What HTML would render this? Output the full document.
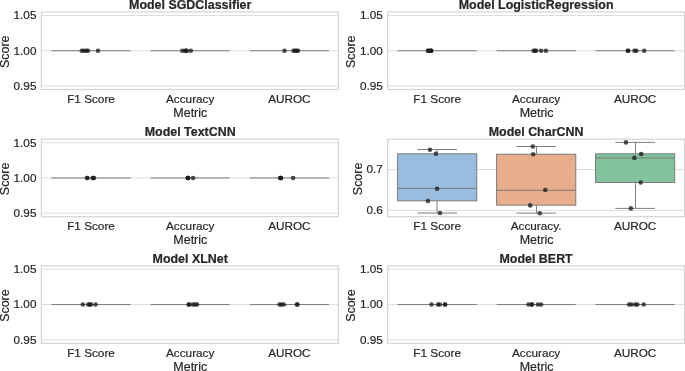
<!DOCTYPE html>
<html><head><meta charset="utf-8"><title>Model scores</title>
<style>html,body{margin:0;padding:0;background:#fff;overflow:hidden}svg{display:block}text{stroke:#262626;stroke-width:.2px}</style></head>
<body>
<svg width="685" height="371" viewBox="0 0 685 371" font-family="'Liberation Sans', Arial, sans-serif" fill="#262626">
<rect width="685" height="371" fill="#ffffff"/>
<g>
<line x1="41.4" x2="338.3" y1="15.52" y2="15.52" stroke="#dadada" stroke-width="0.9"/>
<line x1="41.4" x2="338.3" y1="50.75" y2="50.75" stroke="#dadada" stroke-width="0.9"/>
<line x1="41.4" x2="338.3" y1="85.98" y2="85.98" stroke="#dadada" stroke-width="0.9"/>
<line x1="51.4" x2="130.6" y1="50.75" y2="50.75" stroke="#777777" stroke-width="0.95"/>
<line x1="150.6" x2="229.7" y1="50.75" y2="50.75" stroke="#777777" stroke-width="0.95"/>
<line x1="249.8" x2="329.0" y1="50.75" y2="50.75" stroke="#777777" stroke-width="0.95"/>
<circle cx="81.8" cy="50.75" r="2.3" fill="#1a1a1a" fill-opacity="0.76"/>
<circle cx="84.0" cy="50.75" r="2.3" fill="#1a1a1a" fill-opacity="0.76"/>
<circle cx="86.2" cy="50.75" r="2.3" fill="#1a1a1a" fill-opacity="0.76"/>
<circle cx="88.0" cy="50.75" r="2.3" fill="#1a1a1a" fill-opacity="0.76"/>
<circle cx="98.0" cy="50.75" r="2.3" fill="#1a1a1a" fill-opacity="0.76"/>
<circle cx="182.3" cy="50.75" r="2.3" fill="#1a1a1a" fill-opacity="0.76"/>
<circle cx="185.0" cy="50.75" r="2.3" fill="#1a1a1a" fill-opacity="0.76"/>
<circle cx="186.3" cy="50.75" r="2.3" fill="#1a1a1a" fill-opacity="0.76"/>
<circle cx="186.6" cy="50.75" r="2.3" fill="#1a1a1a" fill-opacity="0.76"/>
<circle cx="190.8" cy="50.75" r="2.3" fill="#1a1a1a" fill-opacity="0.76"/>
<circle cx="284.5" cy="50.75" r="2.3" fill="#1a1a1a" fill-opacity="0.76"/>
<circle cx="293.5" cy="50.75" r="2.3" fill="#1a1a1a" fill-opacity="0.76"/>
<circle cx="295.0" cy="50.75" r="2.3" fill="#1a1a1a" fill-opacity="0.76"/>
<circle cx="296.5" cy="50.75" r="2.3" fill="#1a1a1a" fill-opacity="0.76"/>
<circle cx="298.0" cy="50.75" r="2.3" fill="#1a1a1a" fill-opacity="0.76"/>
<rect x="41.4" y="12.0" width="296.9" height="77.5" fill="none" stroke="#d2d4d4" stroke-width="1.2"/>
<text x="36.45" y="19.4" font-size="11.75" text-anchor="end">1.05</text>
<text x="36.45" y="54.6" font-size="11.75" text-anchor="end">1.00</text>
<text x="36.45" y="89.9" font-size="11.75" text-anchor="end">0.95</text>
<text transform="translate(8.7,51.8) rotate(-90)" font-size="12.45" text-anchor="middle">Score</text>
<text x="91.0" y="103" font-size="11.75" text-anchor="middle">F1 Score</text>
<text x="190.2" y="103" font-size="11.75" text-anchor="middle">Accuracy</text>
<text x="289.4" y="103" font-size="11.75" text-anchor="middle">AUROC</text>
<text x="190.3" y="117" font-size="12.45" text-anchor="middle">Metric</text>
<text x="190.2" y="8.7" font-size="12.45" font-weight="bold" text-anchor="middle">Model SGDClassifier</text>
</g>
<g>
<line x1="387.7" x2="684.6" y1="15.52" y2="15.52" stroke="#dadada" stroke-width="0.9"/>
<line x1="387.7" x2="684.6" y1="50.75" y2="50.75" stroke="#dadada" stroke-width="0.9"/>
<line x1="387.7" x2="684.6" y1="85.98" y2="85.98" stroke="#dadada" stroke-width="0.9"/>
<line x1="397.6" x2="476.8" y1="50.75" y2="50.75" stroke="#777777" stroke-width="0.95"/>
<line x1="496.6" x2="575.7" y1="50.75" y2="50.75" stroke="#777777" stroke-width="0.95"/>
<line x1="595.5" x2="674.7" y1="50.75" y2="50.75" stroke="#777777" stroke-width="0.95"/>
<circle cx="428.0" cy="50.75" r="2.3" fill="#1a1a1a" fill-opacity="0.76"/>
<circle cx="428.3" cy="50.75" r="2.3" fill="#1a1a1a" fill-opacity="0.76"/>
<circle cx="431.0" cy="50.75" r="2.3" fill="#1a1a1a" fill-opacity="0.76"/>
<circle cx="431.2" cy="50.75" r="2.3" fill="#1a1a1a" fill-opacity="0.76"/>
<circle cx="430.6" cy="50.75" r="2.3" fill="#1a1a1a" fill-opacity="0.76"/>
<circle cx="533.6" cy="50.75" r="2.3" fill="#1a1a1a" fill-opacity="0.76"/>
<circle cx="535.0" cy="50.75" r="2.3" fill="#1a1a1a" fill-opacity="0.76"/>
<circle cx="536.0" cy="50.75" r="2.3" fill="#1a1a1a" fill-opacity="0.76"/>
<circle cx="541.1" cy="50.75" r="2.3" fill="#1a1a1a" fill-opacity="0.76"/>
<circle cx="545.9" cy="50.75" r="2.3" fill="#1a1a1a" fill-opacity="0.76"/>
<circle cx="627.8" cy="50.75" r="2.3" fill="#1a1a1a" fill-opacity="0.76"/>
<circle cx="628.2" cy="50.75" r="2.3" fill="#1a1a1a" fill-opacity="0.76"/>
<circle cx="634.5" cy="50.75" r="2.3" fill="#1a1a1a" fill-opacity="0.76"/>
<circle cx="636.4" cy="50.75" r="2.3" fill="#1a1a1a" fill-opacity="0.76"/>
<circle cx="644.2" cy="50.75" r="2.3" fill="#1a1a1a" fill-opacity="0.76"/>
<rect x="387.7" y="12.0" width="296.9" height="77.5" fill="none" stroke="#d2d4d4" stroke-width="1.2"/>
<text x="382.75" y="19.4" font-size="11.75" text-anchor="end">1.05</text>
<text x="382.75" y="54.6" font-size="11.75" text-anchor="end">1.00</text>
<text x="382.75" y="89.9" font-size="11.75" text-anchor="end">0.95</text>
<text transform="translate(355.0,51.8) rotate(-90)" font-size="12.45" text-anchor="middle">Score</text>
<text x="437.2" y="103" font-size="11.75" text-anchor="middle">F1 Score</text>
<text x="536.1" y="103" font-size="11.75" text-anchor="middle">Accuracy</text>
<text x="635.1" y="103" font-size="11.75" text-anchor="middle">AUROC</text>
<text x="536.6" y="117" font-size="12.45" text-anchor="middle">Metric</text>
<text x="536.1" y="8.7" font-size="12.45" font-weight="bold" text-anchor="middle">Model LogisticRegression</text>
</g>
<g>
<line x1="41.4" x2="338.3" y1="142.72" y2="142.72" stroke="#dadada" stroke-width="0.9"/>
<line x1="41.4" x2="338.3" y1="177.95" y2="177.95" stroke="#dadada" stroke-width="0.9"/>
<line x1="41.4" x2="338.3" y1="213.18" y2="213.18" stroke="#dadada" stroke-width="0.9"/>
<line x1="51.4" x2="130.6" y1="177.95" y2="177.95" stroke="#777777" stroke-width="0.95"/>
<line x1="150.6" x2="229.7" y1="177.95" y2="177.95" stroke="#777777" stroke-width="0.95"/>
<line x1="249.8" x2="329.0" y1="177.95" y2="177.95" stroke="#777777" stroke-width="0.95"/>
<circle cx="87.0" cy="177.95" r="2.3" fill="#1a1a1a" fill-opacity="0.76"/>
<circle cx="87.4" cy="177.95" r="2.3" fill="#1a1a1a" fill-opacity="0.76"/>
<circle cx="92.7" cy="177.95" r="2.3" fill="#1a1a1a" fill-opacity="0.76"/>
<circle cx="94.0" cy="177.95" r="2.3" fill="#1a1a1a" fill-opacity="0.76"/>
<circle cx="93.3" cy="177.95" r="2.3" fill="#1a1a1a" fill-opacity="0.76"/>
<circle cx="187.8" cy="177.95" r="2.3" fill="#1a1a1a" fill-opacity="0.76"/>
<circle cx="188.2" cy="177.95" r="2.3" fill="#1a1a1a" fill-opacity="0.76"/>
<circle cx="188.0" cy="177.95" r="2.3" fill="#1a1a1a" fill-opacity="0.76"/>
<circle cx="187.9" cy="177.95" r="2.3" fill="#1a1a1a" fill-opacity="0.76"/>
<circle cx="193.1" cy="177.95" r="2.3" fill="#1a1a1a" fill-opacity="0.76"/>
<circle cx="280.1" cy="177.95" r="2.3" fill="#1a1a1a" fill-opacity="0.76"/>
<circle cx="281.1" cy="177.95" r="2.3" fill="#1a1a1a" fill-opacity="0.76"/>
<circle cx="280.5" cy="177.95" r="2.3" fill="#1a1a1a" fill-opacity="0.76"/>
<circle cx="280.8" cy="177.95" r="2.3" fill="#1a1a1a" fill-opacity="0.76"/>
<circle cx="293.1" cy="177.95" r="2.3" fill="#1a1a1a" fill-opacity="0.76"/>
<rect x="41.4" y="139.2" width="296.9" height="77.5" fill="none" stroke="#d2d4d4" stroke-width="1.2"/>
<text x="36.45" y="146.6" font-size="11.75" text-anchor="end">1.05</text>
<text x="36.45" y="181.8" font-size="11.75" text-anchor="end">1.00</text>
<text x="36.45" y="217.1" font-size="11.75" text-anchor="end">0.95</text>
<text transform="translate(8.7,178.9) rotate(-90)" font-size="12.45" text-anchor="middle">Score</text>
<text x="91.0" y="230" font-size="11.75" text-anchor="middle">F1 Score</text>
<text x="190.2" y="230" font-size="11.75" text-anchor="middle">Accuracy</text>
<text x="289.4" y="230" font-size="11.75" text-anchor="middle">AUROC</text>
<text x="190.3" y="244" font-size="12.45" text-anchor="middle">Metric</text>
<text x="190.2" y="135.9" font-size="12.45" font-weight="bold" text-anchor="middle">Model TextCNN</text>
</g>
<g>
<line x1="387.7" x2="684.6" y1="169.50" y2="169.50" stroke="#dadada" stroke-width="0.9"/>
<line x1="387.7" x2="684.6" y1="210.50" y2="210.50" stroke="#dadada" stroke-width="0.9"/>
<line x1="437.0" x2="437.0" y1="149.5" y2="153.8" stroke="#777777" stroke-width="0.95"/>
<line x1="437.0" x2="437.0" y1="200.8" y2="213.0" stroke="#777777" stroke-width="0.95"/>
<line x1="417.4" x2="457.0" y1="149.5" y2="149.5" stroke="#777777" stroke-width="0.95"/>
<line x1="417.4" x2="457.0" y1="213.0" y2="213.0" stroke="#777777" stroke-width="0.95"/>
<rect x="397.6" y="153.8" width="79.2" height="47.0" fill="#99bcdf" stroke="#777777" stroke-width="0.95"/>
<line x1="397.6" x2="476.8" y1="188.4" y2="188.4" stroke="#777777" stroke-width="0.95"/>
<line x1="536.5" x2="536.5" y1="146.5" y2="154.2" stroke="#777777" stroke-width="0.95"/>
<line x1="536.5" x2="536.5" y1="205.2" y2="213.1" stroke="#777777" stroke-width="0.95"/>
<line x1="516.4" x2="555.9" y1="146.5" y2="146.5" stroke="#777777" stroke-width="0.95"/>
<line x1="516.4" x2="555.9" y1="213.1" y2="213.1" stroke="#777777" stroke-width="0.95"/>
<rect x="496.6" y="154.2" width="79.2" height="51.0" fill="#e8ad8a" stroke="#777777" stroke-width="0.95"/>
<line x1="496.6" x2="575.7" y1="190.3" y2="190.3" stroke="#777777" stroke-width="0.95"/>
<line x1="635.5" x2="635.5" y1="142.4" y2="153.8" stroke="#777777" stroke-width="0.95"/>
<line x1="635.5" x2="635.5" y1="182.5" y2="208.4" stroke="#777777" stroke-width="0.95"/>
<line x1="615.3" x2="654.9" y1="142.4" y2="142.4" stroke="#777777" stroke-width="0.95"/>
<line x1="615.3" x2="654.9" y1="208.4" y2="208.4" stroke="#777777" stroke-width="0.95"/>
<rect x="595.5" y="153.8" width="79.2" height="28.7" fill="#82c29d" stroke="#777777" stroke-width="0.95"/>
<line x1="595.5" x2="674.7" y1="157.95" y2="157.95" stroke="#777777" stroke-width="0.95"/>
<circle cx="430.0" cy="149.7" r="2.3" fill="#1a1a1a" fill-opacity="0.76"/>
<circle cx="435.9" cy="153.8" r="2.3" fill="#1a1a1a" fill-opacity="0.76"/>
<circle cx="437.1" cy="188.7" r="2.3" fill="#1a1a1a" fill-opacity="0.76"/>
<circle cx="427.9" cy="201.0" r="2.3" fill="#1a1a1a" fill-opacity="0.76"/>
<circle cx="440.0" cy="213.0" r="2.3" fill="#1a1a1a" fill-opacity="0.76"/>
<circle cx="532.8" cy="146.5" r="2.3" fill="#1a1a1a" fill-opacity="0.76"/>
<circle cx="533.2" cy="154.2" r="2.3" fill="#1a1a1a" fill-opacity="0.76"/>
<circle cx="545.3" cy="190.0" r="2.3" fill="#1a1a1a" fill-opacity="0.76"/>
<circle cx="530.2" cy="205.4" r="2.3" fill="#1a1a1a" fill-opacity="0.76"/>
<circle cx="539.8" cy="213.2" r="2.3" fill="#1a1a1a" fill-opacity="0.76"/>
<circle cx="626.0" cy="142.4" r="2.3" fill="#1a1a1a" fill-opacity="0.76"/>
<circle cx="641.2" cy="154.0" r="2.3" fill="#1a1a1a" fill-opacity="0.76"/>
<circle cx="634.4" cy="157.9" r="2.3" fill="#1a1a1a" fill-opacity="0.76"/>
<circle cx="640.7" cy="182.5" r="2.3" fill="#1a1a1a" fill-opacity="0.76"/>
<circle cx="630.9" cy="208.4" r="2.3" fill="#1a1a1a" fill-opacity="0.76"/>
<rect x="387.7" y="139.2" width="296.9" height="77.5" fill="none" stroke="#d2d4d4" stroke-width="1.2"/>
<text x="382.75" y="173.4" font-size="11.75" text-anchor="end">0.7</text>
<text x="382.75" y="214.4" font-size="11.75" text-anchor="end">0.6</text>
<text transform="translate(362.3,178.9) rotate(-90)" font-size="12.45" text-anchor="middle">Score</text>
<text x="437.2" y="230" font-size="11.75" text-anchor="middle">F1 Score</text>
<text x="536.1" y="230" font-size="11.75" text-anchor="middle">Accuracy.</text>
<text x="635.1" y="230" font-size="11.75" text-anchor="middle">AUROC</text>
<text x="536.6" y="244" font-size="12.45" text-anchor="middle">Metric</text>
<text x="536.1" y="135.9" font-size="12.45" font-weight="bold" text-anchor="middle">Model CharCNN</text>
</g>
<g>
<line x1="41.4" x2="338.3" y1="269.32" y2="269.32" stroke="#dadada" stroke-width="0.9"/>
<line x1="41.4" x2="338.3" y1="304.55" y2="304.55" stroke="#dadada" stroke-width="0.9"/>
<line x1="41.4" x2="338.3" y1="339.78" y2="339.78" stroke="#dadada" stroke-width="0.9"/>
<line x1="51.4" x2="130.6" y1="304.55" y2="304.55" stroke="#777777" stroke-width="0.95"/>
<line x1="150.6" x2="229.7" y1="304.55" y2="304.55" stroke="#777777" stroke-width="0.95"/>
<line x1="249.8" x2="329.0" y1="304.55" y2="304.55" stroke="#777777" stroke-width="0.95"/>
<circle cx="82.8" cy="304.55" r="2.3" fill="#1a1a1a" fill-opacity="0.76"/>
<circle cx="88.3" cy="304.55" r="2.3" fill="#1a1a1a" fill-opacity="0.76"/>
<circle cx="89.7" cy="304.55" r="2.3" fill="#1a1a1a" fill-opacity="0.76"/>
<circle cx="91.1" cy="304.55" r="2.3" fill="#1a1a1a" fill-opacity="0.76"/>
<circle cx="95.6" cy="304.55" r="2.3" fill="#1a1a1a" fill-opacity="0.76"/>
<circle cx="188.7" cy="304.55" r="2.3" fill="#1a1a1a" fill-opacity="0.76"/>
<circle cx="189.1" cy="304.55" r="2.3" fill="#1a1a1a" fill-opacity="0.76"/>
<circle cx="192.8" cy="304.55" r="2.3" fill="#1a1a1a" fill-opacity="0.76"/>
<circle cx="195.0" cy="304.55" r="2.3" fill="#1a1a1a" fill-opacity="0.76"/>
<circle cx="197.0" cy="304.55" r="2.3" fill="#1a1a1a" fill-opacity="0.76"/>
<circle cx="279.6" cy="304.55" r="2.3" fill="#1a1a1a" fill-opacity="0.76"/>
<circle cx="281.5" cy="304.55" r="2.3" fill="#1a1a1a" fill-opacity="0.76"/>
<circle cx="283.8" cy="304.55" r="2.3" fill="#1a1a1a" fill-opacity="0.76"/>
<circle cx="297.0" cy="304.55" r="2.3" fill="#1a1a1a" fill-opacity="0.76"/>
<circle cx="297.4" cy="304.55" r="2.3" fill="#1a1a1a" fill-opacity="0.76"/>
<rect x="41.4" y="265.8" width="296.9" height="77.5" fill="none" stroke="#d2d4d4" stroke-width="1.2"/>
<text x="36.45" y="273.2" font-size="11.75" text-anchor="end">1.05</text>
<text x="36.45" y="308.4" font-size="11.75" text-anchor="end">1.00</text>
<text x="36.45" y="343.7" font-size="11.75" text-anchor="end">0.95</text>
<text transform="translate(8.7,305.6) rotate(-90)" font-size="12.45" text-anchor="middle">Score</text>
<text x="91.0" y="357" font-size="11.75" text-anchor="middle">F1 Score</text>
<text x="190.2" y="357" font-size="11.75" text-anchor="middle">Accuracy</text>
<text x="289.4" y="357" font-size="11.75" text-anchor="middle">AUROC</text>
<text x="190.3" y="371" font-size="12.45" text-anchor="middle">Metric</text>
<text x="190.2" y="262.5" font-size="12.45" font-weight="bold" text-anchor="middle">Model XLNet</text>
</g>
<g>
<line x1="387.7" x2="684.6" y1="269.32" y2="269.32" stroke="#dadada" stroke-width="0.9"/>
<line x1="387.7" x2="684.6" y1="304.55" y2="304.55" stroke="#dadada" stroke-width="0.9"/>
<line x1="387.7" x2="684.6" y1="339.78" y2="339.78" stroke="#dadada" stroke-width="0.9"/>
<line x1="397.6" x2="476.8" y1="304.55" y2="304.55" stroke="#777777" stroke-width="0.95"/>
<line x1="496.6" x2="575.7" y1="304.55" y2="304.55" stroke="#777777" stroke-width="0.95"/>
<line x1="595.5" x2="674.7" y1="304.55" y2="304.55" stroke="#777777" stroke-width="0.95"/>
<circle cx="431.5" cy="304.55" r="2.3" fill="#1a1a1a" fill-opacity="0.76"/>
<circle cx="438.0" cy="304.55" r="2.3" fill="#1a1a1a" fill-opacity="0.76"/>
<circle cx="439.8" cy="304.55" r="2.3" fill="#1a1a1a" fill-opacity="0.76"/>
<circle cx="444.8" cy="304.55" r="2.3" fill="#1a1a1a" fill-opacity="0.76"/>
<circle cx="445.2" cy="304.55" r="2.3" fill="#1a1a1a" fill-opacity="0.76"/>
<circle cx="528.6" cy="304.55" r="2.3" fill="#1a1a1a" fill-opacity="0.76"/>
<circle cx="531.7" cy="304.55" r="2.3" fill="#1a1a1a" fill-opacity="0.76"/>
<circle cx="532.1" cy="304.55" r="2.3" fill="#1a1a1a" fill-opacity="0.76"/>
<circle cx="537.8" cy="304.55" r="2.3" fill="#1a1a1a" fill-opacity="0.76"/>
<circle cx="541.1" cy="304.55" r="2.3" fill="#1a1a1a" fill-opacity="0.76"/>
<circle cx="629.1" cy="304.55" r="2.3" fill="#1a1a1a" fill-opacity="0.76"/>
<circle cx="631.5" cy="304.55" r="2.3" fill="#1a1a1a" fill-opacity="0.76"/>
<circle cx="635.4" cy="304.55" r="2.3" fill="#1a1a1a" fill-opacity="0.76"/>
<circle cx="637.3" cy="304.55" r="2.3" fill="#1a1a1a" fill-opacity="0.76"/>
<circle cx="643.7" cy="304.55" r="2.3" fill="#1a1a1a" fill-opacity="0.76"/>
<rect x="387.7" y="265.8" width="296.9" height="77.5" fill="none" stroke="#d2d4d4" stroke-width="1.2"/>
<text x="382.75" y="273.2" font-size="11.75" text-anchor="end">1.05</text>
<text x="382.75" y="308.4" font-size="11.75" text-anchor="end">1.00</text>
<text x="382.75" y="343.7" font-size="11.75" text-anchor="end">0.95</text>
<text transform="translate(355.0,305.6) rotate(-90)" font-size="12.45" text-anchor="middle">Score</text>
<text x="437.2" y="357" font-size="11.75" text-anchor="middle">F1 Score</text>
<text x="536.1" y="357" font-size="11.75" text-anchor="middle">Accuracy</text>
<text x="635.1" y="357" font-size="11.75" text-anchor="middle">AUROC</text>
<text x="536.6" y="371" font-size="12.45" text-anchor="middle">Metric</text>
<text x="536.1" y="262.5" font-size="12.45" font-weight="bold" text-anchor="middle">Model BERT</text>
</g>
</svg>
</body></html>
